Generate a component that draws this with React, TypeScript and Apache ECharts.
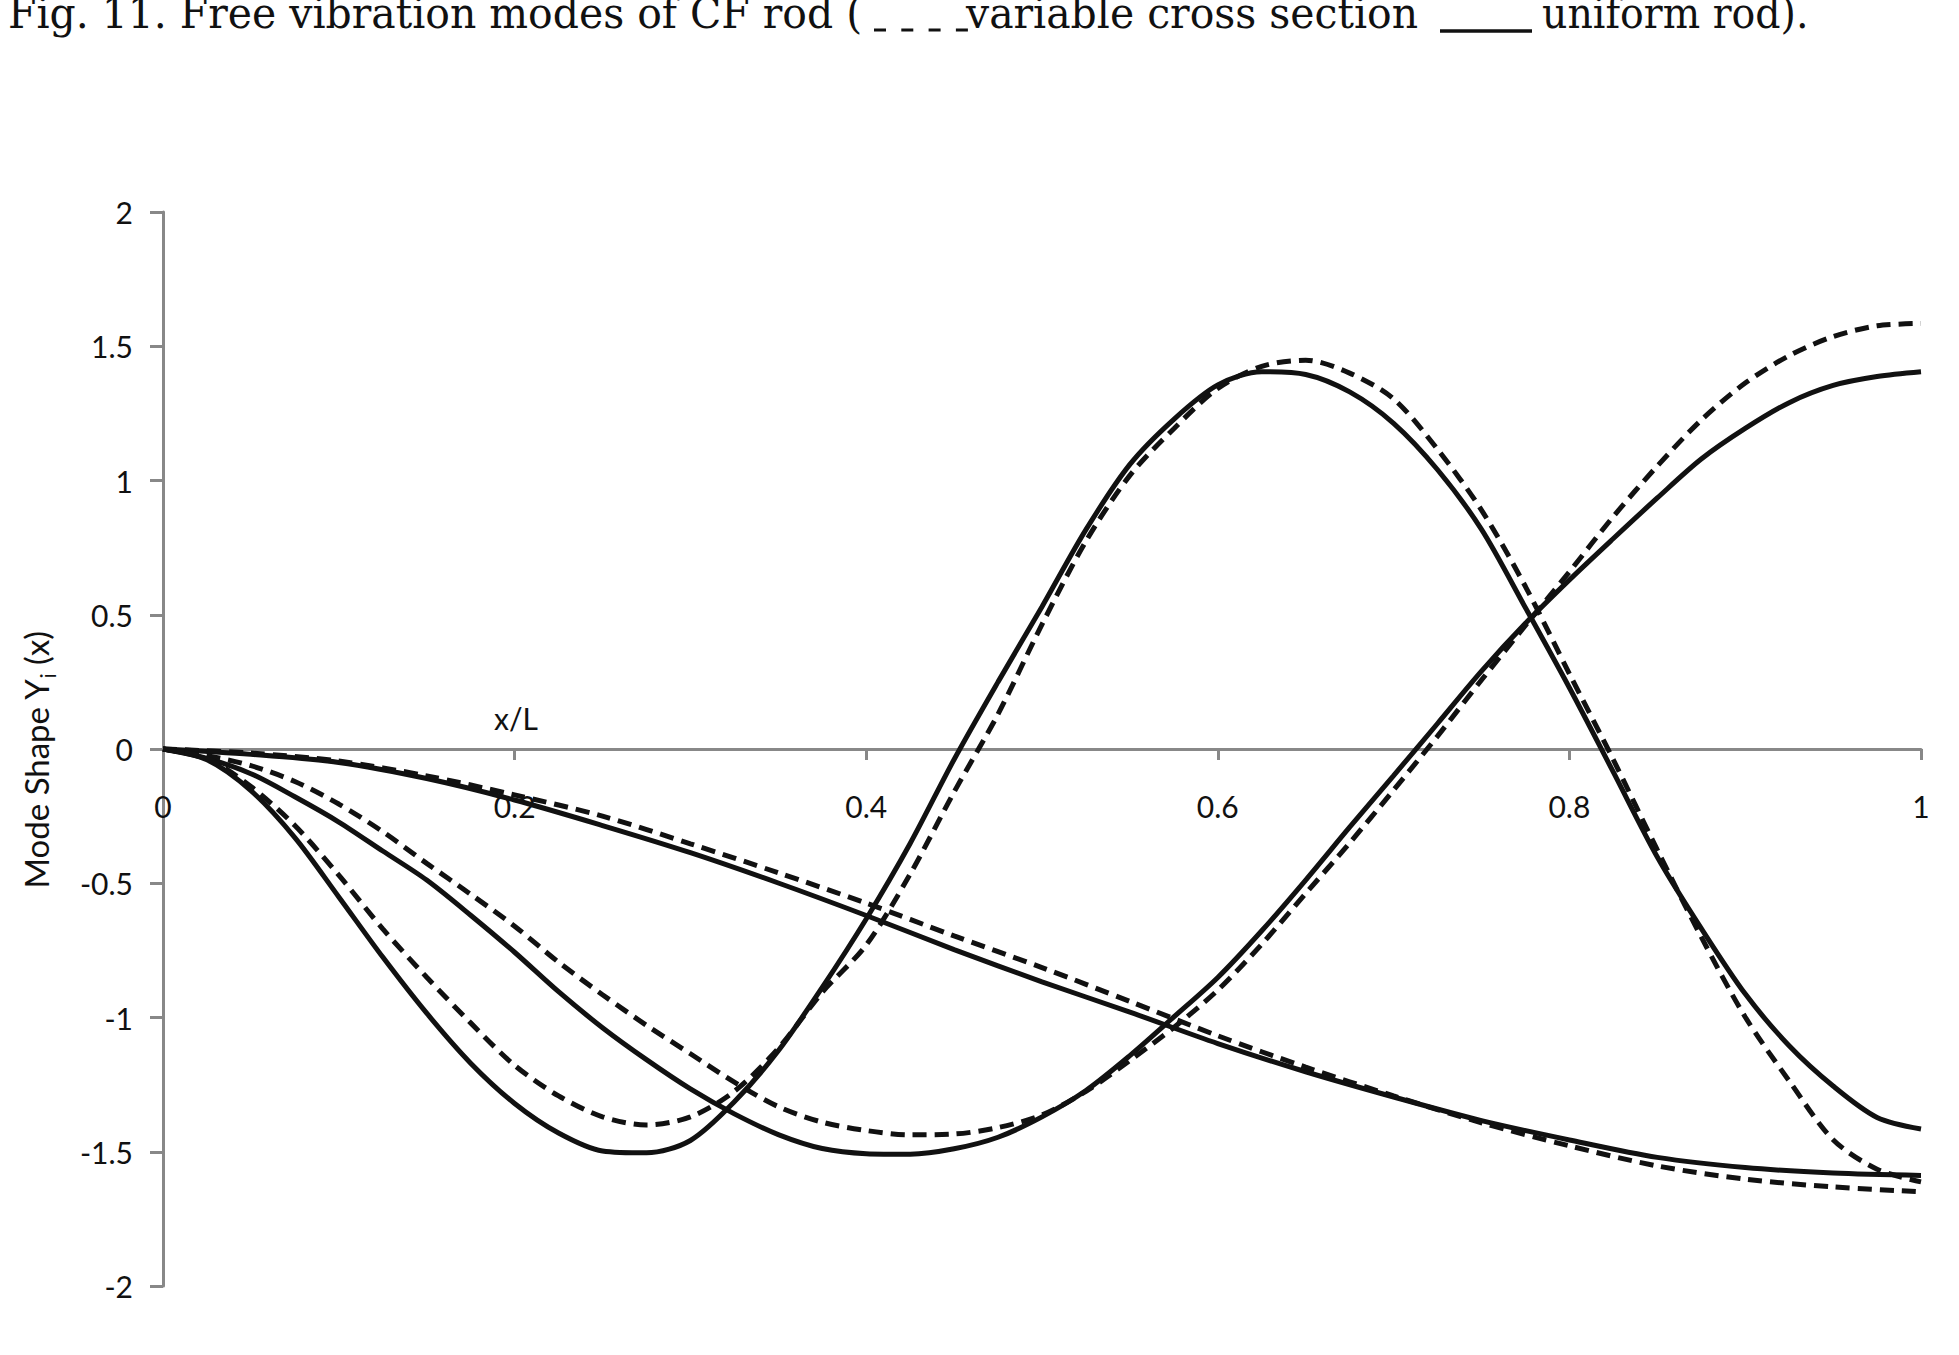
import React, { useEffect, useRef } from "react";
import * as echarts from "echarts";

// x positions (x/L)
const X_FINE = [
  0, 0.025, 0.05, 0.075, 0.1, 0.125, 0.15, 0.175, 0.2, 0.225, 0.25, 0.275, 0.3, 0.325, 0.35, 0.375,
  0.4, 0.425, 0.45, 0.475, 0.5, 0.525, 0.55, 0.575, 0.6, 0.625, 0.65, 0.675, 0.7, 0.725, 0.75, 0.775,
  0.8, 0.825, 0.85, 0.875, 0.9, 0.925, 0.95, 0.975, 1,
];
const X_COARSE = [
  0, 0.05, 0.1, 0.15, 0.2, 0.25, 0.3, 0.35, 0.4, 0.45, 0.5, 0.55, 0.6, 0.65, 0.7, 0.75, 0.8, 0.85,
  0.9, 0.95, 1,
];

// Mode 1
const mode1Uniform = [
  0, -0.02, -0.05, -0.11, -0.19, -0.285, -0.386, -0.499, -0.62, -0.747, -0.867, -0.98, -1.097,
  -1.202, -1.296, -1.384, -1.456, -1.521, -1.559, -1.579, -1.588,
];
const mode1Variable = [
  0, -0.015, -0.045, -0.1, -0.171, -0.25, -0.353, -0.461, -0.574, -0.696, -0.814, -0.94, -1.068,
  -1.185, -1.292, -1.392, -1.478, -1.553, -1.602, -1.631, -1.649,
];

// Mode 2
const mode2Uniform = [
  0, -0.035, -0.092, -0.178, -0.272, -0.38, -0.488, -0.619, -0.757, -0.904, -1.038, -1.157, -1.266,
  -1.359, -1.436, -1.488, -1.507, -1.509, -1.489, -1.446, -1.37, -1.272, -1.142, -0.998, -0.851,
  -0.677, -0.488, -0.291, -0.099, 0.095, 0.29, 0.468, 0.63, 0.784, 0.935, 1.08, 1.194, 1.29, 1.354,
  1.387, 1.405,
];
const mode2Variable = [
  0, -0.025, -0.062, -0.121, -0.205, -0.308, -0.426, -0.541, -0.66, -0.794, -0.915, -1.029, -1.135,
  -1.241, -1.332, -1.39, -1.421, -1.437, -1.434, -1.41, -1.363, -1.275, -1.16, -1.037, -0.898,
  -0.727, -0.538, -0.35, -0.153, 0.048, 0.257, 0.46, 0.66, 0.866, 1.054, 1.225, 1.363, 1.465, 1.536,
  1.576, 1.585,
];

// Mode 3
const mode3Uniform = [
  0, -0.04, -0.155, -0.33, -0.551, -0.775, -0.984, -1.17, -1.32, -1.43, -1.497, -1.504, -1.458,
  -1.314, -1.124, -0.888, -0.633, -0.352, -0.039, 0.25, 0.53, 0.817, 1.06, 1.228, 1.356, 1.405,
  1.395, 1.33, 1.213, 1.04, 0.818, 0.526, 0.228, -0.086, -0.402, -0.668, -0.912, -1.105, -1.255,
  -1.372, -1.415,
];
const mode3Variable = [
  0, -0.035, -0.14, -0.285, -0.47, -0.67, -0.85, -1.02, -1.178, -1.292, -1.37, -1.4, -1.37,
  -1.275, -1.115, -0.906, -0.73, -0.466, -0.16, 0.13, 0.464, 0.774, 1.019, 1.193, 1.343, 1.425,
  1.448, 1.4, 1.304, 1.116, 0.89, 0.605, 0.28, -0.04, -0.376, -0.7, -0.998, -1.236, -1.455, -1.565,
  -1.612,
];

const CAPTION_1 = "Fig. 11. Free vibration modes of CF rod (";
const CAPTION_2 = "variable cross section";
const CAPTION_3 = "uniform rod).";
const X_NAME = "x/L";

const AXIS_COLOR = "#888888";
const LINE_COLOR = "#111111";
const SANS = "Lato, 'Open Sans', sans-serif";
const SERIF = "'DejaVu Serif', 'Liberation Serif', serif";

function pairs(xs: number[], ys: number[]) {
  return xs.map((x, i) => [x, ys[i]]);
}

function lineSeries(name: string, xs: number[], ys: number[], dashed: boolean) {
  return {
    name,
    type: "line",
    data: pairs(xs, ys),
    showSymbol: false,
    symbol: "none",
    smooth: 0.3,
    lineStyle: {
      color: LINE_COLOR,
      width: 5,
      type: dashed ? [14, 8] : "solid",
      cap: "butt",
    },
    z: dashed ? 3 : 2,
  };
}

export default function App() {
  const ref = useRef<HTMLDivElement>(null);

  useEffect(() => {
    if (!ref.current) return;
    const chart = echarts.init(ref.current, undefined, { renderer: "svg" });
    const captionFont = `42px ${SERIF}`;
    const option: any = {
      animation: false,
      backgroundColor: "#ffffff",
      grid: { left: 163, right: 38, top: 212, bottom: 69, outerBoundsMode: "none" },
      xAxis: {
        type: "value",
        min: 0,
        max: 1,
        interval: 0.2,
        position: "bottom",
        offset: -537,
        axisLine: { show: true, onZero: false, lineStyle: { color: AXIS_COLOR, width: 3 } },
        axisTick: { show: true, length: 11, lineStyle: { color: AXIS_COLOR, width: 3 } },
        axisLabel: { margin: 42, fontSize: 30, fontFamily: SANS, color: "#111" },
        splitLine: { show: false },
      },
      yAxis: {
        type: "value",
        min: -2,
        max: 2,
        interval: 0.5,
        axisLine: { show: true, onZero: false, lineStyle: { color: AXIS_COLOR, width: 3 } },
        axisTick: { show: true, length: 13, lineStyle: { color: AXIS_COLOR, width: 3 } },
        axisLabel: { margin: 30, fontSize: 30, fontFamily: SANS, color: "#111" },
        splitLine: { show: false },
      },
      series: [
        lineSeries("Mode 1 uniform", X_COARSE, mode1Uniform, false),
        lineSeries("Mode 1 variable", X_COARSE, mode1Variable, true),
        lineSeries("Mode 2 uniform", X_FINE, mode2Uniform, false),
        lineSeries("Mode 2 variable", X_FINE, mode2Variable, true),
        lineSeries("Mode 3 uniform", X_FINE, mode3Uniform, false),
        lineSeries("Mode 3 variable", X_FINE, mode3Variable, true),
      ],
      graphic: [
        {
          type: "text",
          x: 8,
          y: 14,
          scaleX: 0.975,
          style: { text: CAPTION_1, font: captionFont, fill: "#111", align: "left", verticalAlign: "middle" },
        },
        {
          type: "line",
          shape: { x1: 874, y1: 30, x2: 968, y2: 30 },
          style: { stroke: "#111", lineWidth: 3, lineDash: [12, 15.3] },
        },
        {
          type: "text",
          x: 966,
          y: 14,
          scaleX: 0.975,
          style: { text: CAPTION_2, font: captionFont, fill: "#111", align: "left", verticalAlign: "middle" },
        },
        {
          type: "line",
          shape: { x1: 1440, y1: 31, x2: 1532, y2: 31 },
          style: { stroke: "#111", lineWidth: 3.5 },
        },
        {
          type: "text",
          x: 1542,
          y: 14,
          scaleX: 0.94,
          style: { text: CAPTION_3, font: captionFont, fill: "#111", align: "left", verticalAlign: "middle" },
        },
        {
          type: "text",
          x: 516,
          y: 718,
          style: { text: X_NAME, fontSize: 30, fontFamily: SANS, fill: "#111", align: "center", verticalAlign: "middle" },
        },
        {
          type: "text",
          x: 36,
          y: 760,
          rotation: Math.PI / 2,
          style: {
            text: "{a|Mode Shape Y}{s|i}{a| (x)}",
            fontSize: 33,
            fontFamily: SANS,
            fill: "#111",
            align: "center",
            verticalAlign: "middle",
            rich: {
              a: { fontSize: 33, fontFamily: SANS, fill: "#111", lineHeight: 44, verticalAlign: "middle" },
              s: { fontSize: 22, fontFamily: SANS, fill: "#111", lineHeight: 24, verticalAlign: "bottom" },
            },
          },
        },
      ],
    };
    chart.setOption(option);
    return () => chart.dispose();
  }, []);

  return (
    <div
      ref={ref}
      style={{ position: "fixed", left: 0, top: 0, width: "1959px", height: "1355px", background: "#fff" }}
    />
  );
}
